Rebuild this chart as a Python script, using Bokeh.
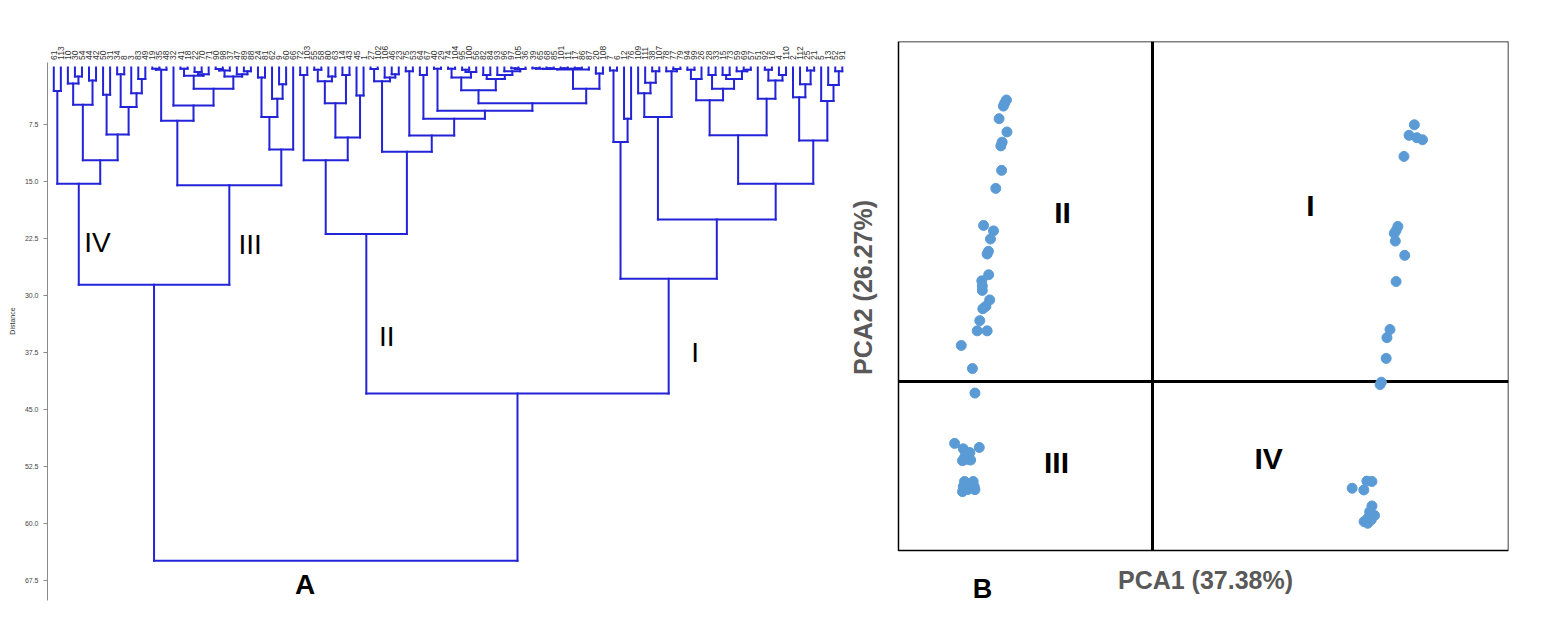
import math
from bokeh.plotting import figure
from bokeh.models import Range1d, FixedTicker, Label, ColumnDataSource, PrintfTickFormatter
from bokeh.core.properties import value
from bokeh.embed import file_html
from bokeh.resources import INLINE

FONT = "Liberation Sans"
BLUE = "#2323d8"
DOT = "#5b9bd5"

# ---------------- Dendrogram data (A) ----------------
leaf_labels = [61, 113, 10, 30, 54, 44, 42, 50, 31, 34, 8, 3, 83, 49,
               19, 35, 48, 32, 41, 18, 22, 70, 71, 90, 98, 37, 47, 89, 88, 24, 81, 62, 9, 60, 66,
               72, 103, 55, 58, 80, 63, 14, 43, 45, 1, 27, 102, 106, 46, 23, 75, 53, 64, 67, 40, 29,
               74, 104, 95, 100, 56, 82, 84, 93, 96, 97, 105, 36, 39, 65, 68, 85, 101, 11, 17, 86,
               87, 20, 108,
               7, 6, 12, 76, 109, 111, 38, 107, 78, 77, 79, 94, 99, 26, 28, 33, 15, 73, 59, 69, 57,
               51, 92, 16, 4, 110, 2, 112, 25, 21, 5, 13, 52, 91]

# merges: (name, left child, right child, distance); ints are leaf positions
merges_IV = [("A", 0, 1, 3.1), ("B", 3, 4, 1.2), ("C", 2, "B", 2.1), ("D", 5, 6, 1.7),
             ("E", "C", "D", 4.9), ("F", 7, 8, 3.6), ("G", 9, 10, 0.9), ("H1", 12, 13, 1.5),
             ("H", 11, "H1", 3.4), ("I4", "G", "H", 5.2), ("J", "F", "I4", 8.8),
             ("K", "E", "J", 12.2), ("IV", "A", "K", 15.3)]
merges_III = [("a1", 14, 15, 0.15), ("a2", "a1", 16, 0.3), ("b1", 20, 21, 0.6), ("b2", "b1", 22, 0.9),
              ("b3", 18, 19, 0.15), ("b4", "b3", "b2", 1.1), ("b5", 27, 28, 0.5), ("b6", 26, "b5", 0.9),
              ("b7", 23, 24, 0.2), ("b7b", "b7", 25, 0.4), ("b8", "b7b", "b6", 1.2),
              ("b9", "b4", "b8", 2.8), ("b10", 17, "b9", 5.0), ("c0", "a2", "b10", 7.0),
              ("c1", 29, 30, 1.3), ("c2", 32, 33, 2.2), ("c3", 31, "c2", 4.1), ("c4", "c1", "c3", 6.5),
              ("c5", "c4", 34, 10.8), ("III", "c0", "c5", 15.5)]
merges_II = [("d1", 35, 36, 1.0), ("d2", 37, 38, 0.3), ("d3", 39, 40, 1.2), ("d4", "d2", "d3", 1.8),
             ("d5", 41, 42, 1.0), ("d6", "d4", "d5", 4.7), ("d7", 43, 44, 3.7), ("d8", "d6", "d7", 9.2),
             ("d9", "d1", "d8", 12.2), ("e1", 45, 46, 0.2), ("e2", 48, 49, 0.9), ("e3", 47, "e2", 1.3),
             ("e4", "e1", "e3", 1.8), ("e5", 50, 51, 0.5), ("e6", 52, 53, 1.0), ("f1", 54, 55, 0.15),
             ("g1a", 56, 57, 0.15), ("g1b", 58, 59, 0.3), ("g1c", "g1b", 60, 0.6), ("g1", "g1a", "g1c", 1.3),
             ("g2a", 61, 62, 1.0), ("g2b", 65, 66, 0.1), ("g2c", "g2b", 67, 0.2), ("g2d", 64, "g2c", 0.5),
             ("g2e", 63, "g2d", 1.0), ("g2", "g2a", "g2e", 1.5), ("g", "g1", "g2", 3.0),
             ("h1a", 68, 69, 0.1), ("h1b", 70, 71, 0.1), ("h1c", 72, 73, 0.1), ("h1d", 74, 75, 0.1),
             ("h1e", "h1a", "h1b", 0.15), ("h1f", "h1c", "h1d", 0.15), ("h1g", "h1e", "h1f", 0.2),
             ("h1", "h1g", 76, 0.25), ("h2", 77, 78, 0.8), ("h", "h1", "h2", 2.8),
             ("gh", "g", "h", 4.7), ("f2", "f1", "gh", 5.7), ("e7", "e6", "f2", 6.75),
             ("e8", "e5", "e7", 8.95), ("e9", "e4", "e8", 11.1), ("II", "d9", "e9", 21.9)]
merges_I = [("i1", 79, 80, 0.4), ("i2", 81, 82, 6.75), ("i3", "i1", "i2", 9.8), ("j1", 85, 86, 0.5),
            ("j2", 84, "j1", 2.0), ("j3", 83, "j2", 3.4), ("j4", 88, 89, 0.2), ("j5", 87, "j4", 0.5),
            ("j", "j3", "j5", 6.5), ("k1", 90, 91, 0.3), ("k2", "k1", 92, 1.5), ("k3", 93, 94, 1.0),
            ("k4", 95, 96, 1.0), ("k5a", 98, 99, 0.3), ("k5", 97, "k5a", 0.5), ("k6", "k4", "k5", 1.5),
            ("k7", "k3", "k6", 2.8), ("k8", "k2", "k7", 4.3), ("l2a", 101, 102, 0.3), ("l2b", 103, 104, 1.0),
            ("l2", "l2a", "l2b", 1.7), ("l", 100, "l2", 4.1), ("kl", "k8", "l", 8.9),
            ("m1", 107, 108, 0.4), ("m2", 106, "m1", 2.2), ("m3", 105, "m2", 3.9), ("m4", 111, 112, 0.5),
            ("m5", 110, "m4", 2.3), ("m6", 109, "m5", 4.4), ("m", "m3", "m6", 9.6),
            ("klm", "kl", "m", 15.3), ("jklm", "j", "klm", 20.0), ("I", "i3", "jklm", 27.8)]
merges_top = [("IVIII", "IV", "III", 28.6), ("II_I", "II", "I", 42.9), ("root", "IVIII", "II_I", 64.9)]

distance_ticks = [7.5, 15.0, 22.5, 30.0, 37.5, 45.0, 52.5, 60.0, 67.5]

# ---------------- PCA data (B) ----------------
pca1 = [-0.575, -0.582, -0.587, -0.604, -0.573, -0.592, -0.597, -0.594, -0.617, -0.665, -0.626,
        -0.638, -0.646, -0.651, -0.645, -0.672, -0.670, -0.670, -0.641, -0.656, -0.668, -0.680,
        -0.690, -0.651, -0.753, -0.709, -0.699,
        -0.779, -0.745, -0.682, -0.736, -0.719, -0.741, -0.728, -0.748, -0.716, -0.740, -0.706,
        -0.728, -0.745, -0.702, -0.748, -0.728, -0.699, -0.719,
        1.031, 1.010, 1.041, 1.063, 0.990, 0.966, 0.959, 0.952, 0.956, 0.993, 0.959, 0.935,
        0.923, 0.920, 0.901, 0.896,
        0.844, 0.864, 0.786, 0.832, 0.864, 0.855, 0.874, 0.849, 0.833, 0.847, 0.861]
pca2 = [0.828, 0.819, 0.810, 0.773, 0.734, 0.704, 0.693, 0.621, 0.568, 0.459, 0.443,
        0.419, 0.383, 0.375, 0.314, 0.296, 0.281, 0.268, 0.240, 0.221, 0.214, 0.179,
        0.149, 0.149, 0.106, 0.038, -0.034,
        -0.182, -0.198, -0.194, -0.209, -0.209, -0.225, -0.229, -0.233, -0.231, -0.294, -0.294,
        -0.302, -0.309, -0.309, -0.324, -0.318, -0.318, -0.305,
        0.755, 0.724, 0.717, 0.711, 0.662, 0.456, 0.444, 0.436, 0.413, 0.371, 0.294, 0.153,
        0.129, 0.068, -0.002, -0.009,
        -0.293, -0.294, -0.314, -0.319, -0.366, -0.383, -0.394, -0.401, -0.412, -0.417, -0.407]
pca_box_x = [-1.0, 1.4016]
pca_box_y = [-0.4971, 1.0]

# ---------------- build dendrogram segments ----------------
pos = {i: (float(i), 0.0) for i in range(len(leaf_labels))}
x0, y0, x1, y1 = [], [], [], []
for name, a, b, h in merges_IV + merges_III + merges_II + merges_I + merges_top:
    xa, ha = pos[a]
    xb, hb = pos[b]
    x0 += [xa, xb, xa]
    y0 += [ha, hb, h]
    x1 += [xa, xb, xb]
    y1 += [h, h, h]
    pos[name] = ((xa + xb) / 2.0, h)
seg = ColumnDataSource(dict(x0=x0, y0=y0, x1=x1, y1=y1))

n = len(leaf_labels)
p = figure(width=1530, height=609,
           x_range=Range1d(-0.895, 206.63), y_range=Range1d(70.13, -3.421),
           x_axis_location=None, output_backend="svg", toolbar_location=None,
           min_border_left=47, min_border_right=22, min_border_top=41, min_border_bottom=9)
p.extra_x_ranges = {"pcax": Range1d(-4.3504, 1.4016)}
p.extra_y_ranges = {"pcay": Range1d(-0.6441, 1.0)}
p.outline_line_color = None
p.grid.visible = False

# --- panel A: dendrogram ---
p.segment(x0="x0", y0="y0", x1="x1", y1="y1", source=seg, line_color=BLUE, line_width=2,
          line_cap="square")
p.text(x=list(range(n)), y=[-1.0] * n, text=[str(v) for v in leaf_labels], angle=math.pi / 2,
       text_align="left", text_baseline="middle", text_font=value(FONT),
       text_font_size="8.5px", text_color="#333333")

ya = p.yaxis[0]
ya.bounds = (-0.6, 70.13)
ya.ticker = FixedTicker(ticks=distance_ticks)
ya.formatter = PrintfTickFormatter(format="%.1f")
ya.axis_label = "Distance"
ya.axis_label_text_font_size = "7px"
ya.axis_label_text_font_style = "normal"
ya.axis_label_text_font = FONT
ya.axis_label_text_color = "#333333"
ya.axis_label_standoff = 6
ya.major_label_text_font_size = "7px"
ya.major_label_text_font = FONT
ya.major_label_text_color = "#444444"
ya.major_tick_in = 0
ya.major_tick_out = 4
ya.minor_tick_line_color = None
ya.axis_line_color = "#8a8a8a"
ya.major_tick_line_color = "#8a8a8a"

for txt, xv, yv in [("IV", 6.2, 23.0), ("III", 27.9, 23.3), ("II", 47.3, 35.4), ("I", 91.1, 37.5)]:
    p.add_layout(Label(x=xv, y=yv, text=txt, text_font=FONT, text_font_size="28px",
                       text_align="center", text_baseline="middle", text_color="black"))
p.add_layout(Label(x=35.7, y=68.0, text="A", text_font=FONT, text_font_size="28px",
                   text_font_style="bold", text_align="center", text_baseline="middle",
                   text_color="black"))

# --- panel B: PCA ---
rx, ry = "pcax", "pcay"
p.quad(left=[pca_box_x[0]], right=[pca_box_x[1]], bottom=[pca_box_y[0]], top=[pca_box_y[1]],
       fill_color=None, line_color="black", line_width=1.5, x_range_name=rx, y_range_name=ry)
p.segment(x0=[0.0, pca_box_x[0]], y0=[pca_box_y[0], 0.0], x1=[0.0, pca_box_x[1]], y1=[pca_box_y[1], 0.0],
          line_color="black", line_width=3, x_range_name=rx, y_range_name=ry)
p.scatter(pca1, pca2, size=10, fill_color=DOT, line_color=DOT, x_range_name=rx, y_range_name=ry)

for txt, xv, yv in [("II", -0.354, 0.497), ("I", 0.622, 0.518), ("III", -0.378, -0.238), ("IV", 0.457, -0.226)]:
    p.add_layout(Label(x=xv, y=yv, text=txt, text_font=FONT, text_font_size="30px",
                       text_font_style="bold", text_align="center", text_baseline="middle",
                       text_color="black", x_range_name=rx, y_range_name=ry))
p.add_layout(Label(x=0.2087, y=-0.585, text="PCA1 (37.38%)", text_font=FONT, text_font_size="25px",
                   text_font_style="bold", text_align="center", text_baseline="middle",
                   text_color="#595959", x_range_name=rx, y_range_name=ry))
p.add_layout(Label(x=-1.1417, y=0.2765, text="PCA2 (26.27%)", text_font=FONT, text_font_size="25px",
                   text_font_style="bold", text_align="center", text_baseline="middle",
                   angle=math.pi / 2, text_color="#595959", x_range_name=rx, y_range_name=ry))
p.add_layout(Label(x=-0.669, y=-0.61, text="B", text_font=FONT, text_font_size="27px",
                   text_font_style="bold", text_align="center", text_baseline="middle",
                   text_color="black", x_range_name=rx, y_range_name=ry))

open("out.html", "w").write(file_html(p, INLINE))
